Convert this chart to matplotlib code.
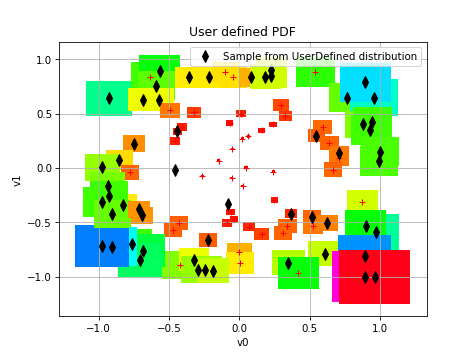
import numpy as np
import matplotlib
matplotlib.use("Agg")
import matplotlib.pyplot as plt
from matplotlib.patches import Rectangle

# Support points of the UserDefined distribution and their (normalized) weights
support_x = [
    -0.925, -0.636, -0.565, -0.59, -0.688, -0.569, -0.493, -0.41, -0.44, -0.455, -0.747, -0.32,
    -0.356, -0.218, -0.10, -0.043, 0.083, 0.185, 0.228, 0.228, 0.54,
    0.764, 0.954, 0.895, 0.878, 0.944, 0.93, 1.0, 0.99,
    0.593, 0.546, 0.64, 0.707, 0.707, 0.664, 0.297, 0.327, 0.873,
    0.012, -0.07, 0.16, 0.237, 0.021, 0.064, -0.052, -0.148, -0.265, -0.055, 0.047, 0.24, 0.024,
    0.249, -0.078, -0.458,
    -0.062, -0.038, -0.086, 0.068, 0.157, 0.368, 0.34, 0.31, 0.0, 0.005, -0.225, -0.432, -0.475,
    -0.422, -0.32, -0.292, -0.244, -0.185,
    0.517, 0.522, 0.625, 0.605, 0.347, 0.418, 0.968, 0.897, 0.89, 0.89, 0.96,
    -0.76, -0.683, -0.707, -0.906, -0.975,
    -0.854, -0.973, -0.778, -0.83, -0.937, -0.925, -0.973, -0.902, -0.712, -0.693,
]
support_y = [
    0.64, 0.84, 0.895, 0.756, 0.627, 0.627, 0.53, 0.38, 0.336, 0.25, 0.225, 0.512,
    0.833, 0.833, 0.88, 0.833, 0.833, 0.84, 0.845, 0.905, 0.88,
    0.648, 0.648, 0.787, 0.40, 0.423, 0.35, 0.15, 0.065,
    0.377, 0.296, 0.229, 0.136, 0.09, -0.015, 0.577, 0.478, -0.31,
    0.5, 0.415, 0.345, 0.40, 0.27, 0.29, 0.176, 0.067, -0.074, -0.092, 0.003, -0.034, -0.164,
    -0.293, -0.33, -0.019,
    -0.405, -0.472, -0.507, -0.54, -0.605, -0.42, -0.535, -0.595, -0.775, -0.877, -0.66, -0.506, -0.568,
    -0.892, -0.845, -0.935, -0.935, -0.944,
    -0.455, -0.538, -0.505, -0.79, -0.87, -0.963, -0.59, -0.534, -0.806, -1.0, -1.0,
    -0.697, -0.76, -0.845, -0.722, -0.72,
    0.074, 0.006, -0.04, -0.343, -0.164, -0.26, -0.31, -0.426, -0.38, -0.435,
]
weights = [
    0.43, 0.30, 0.34, 0.28, 0.18, 0.18, 0.08, 0.02, 0.02, 0.02, 0.097, 0.04,
    0.16, 0.16, 0.15, 0.15, 0.12, 0.2, 0.2, 0.2, 0.31,
    0.27, 0.47, 0.53, 0.25, 0.3, 0.3, 0.29, 0.29,
    0.073, 0.06, 0.07, 0.08, 0.08, 0.07, 0.048, 0.036, 0.2,
    0.02, 0.01, 0.01, 0.012, 0.002, 0.002, 0.002, 0.002, 0.002, 0.002, 0.002, 0.002, 0.002,
    0.012, 0.004, 0.004,
    0.015, 0.015, 0.02, 0.025, 0.045, 0.028, 0.07, 0.07, 0.12, 0.16, 0.066, 0.066, 0.066,
    0.25, 0.18, 0.24, 0.24, 0.21,
    0.07, 0.08, 0.087, 0.21, 0.22, 0.34, 0.44, 0.34, 0.58, 0.87, 1.0,
    0.3, 0.38, 0.4, 0.5, 0.59,
    0.145, 0.24, 0.07, 0.16, 0.26, 0.3, 0.3, 0.27, 0.1, 0.1,
]
# Indices (into the support) of the points drawn in the sample
sample_idx = [
    0, 2, 3, 4, 5, 8, 10, 12, 13, 16, 17, 18, 19,
    21, 22, 23, 24, 25, 26, 27, 28, 30, 32,
    52, 53, 59, 64, 68, 69, 70, 71,
    72, 74, 75, 76, 78, 79, 80, 81, 82,
    83, 84, 85, 86, 87, 88, 89, 91, 92, 93, 94, 95, 96, 97,
]

title = "User defined PDF"
xlabel = "v0"
ylabel = "v1"
legend_label = "Sample from UserDefined distribution"
xticks = [-1.0, -0.5, 0.0, 0.5, 1.0]
yticks = [-1.0, -0.5, 0.0, 0.5, 1.0]

fig, ax = plt.subplots(figsize=(6.4, 4.8), dpi=74.0625)
cmap = plt.get_cmap("hsv")
for x, y, w in zip(support_x, support_y, weights):
    s = 0.5 * np.sqrt(w)
    ax.add_patch(Rectangle((x - s / 2, y - s / 2), s, s, facecolor=cmap(w),
                           edgecolor="none", zorder=1))

ax.plot(support_x, support_y, linestyle="none", marker="+", color="red",
        markersize=6, markeredgewidth=1.0, zorder=2)
sx = [support_x[i] for i in sample_idx]
sy = [support_y[i] for i in sample_idx]
ax.plot(sx, sy, linestyle="none", marker="d", color="black", markersize=8,
        label=legend_label, zorder=3)

ax.set_xlim(-1.28, 1.33)
ax.set_ylim(-1.36, 1.157)
ax.set_xticks(xticks)
ax.set_yticks(yticks)
ax.grid(True)
ax.set_title(title)
ax.set_xlabel(xlabel)
ax.set_ylabel(ylabel)
ax.legend(loc="upper right")
fig.savefig("out.png", dpi=74.0625)
